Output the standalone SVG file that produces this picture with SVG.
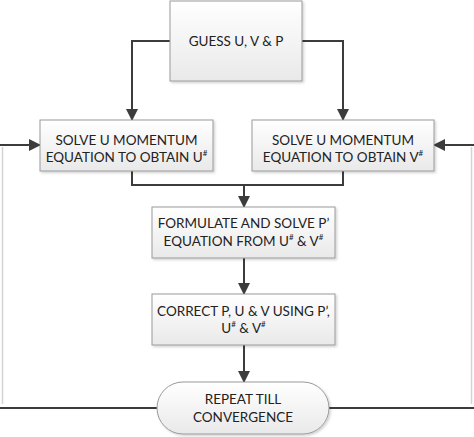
<svg xmlns="http://www.w3.org/2000/svg" width="474" height="437" viewBox="0 0 474 437">
<defs>
<linearGradient id="g" x1="0" y1="0" x2="0" y2="1">
<stop offset="0" stop-color="#ffffff"/>
<stop offset="1" stop-color="#e9e9e9"/>
</linearGradient>
<marker id="ah" markerWidth="12" markerHeight="12" refX="11" refY="6" orient="auto" markerUnits="userSpaceOnUse">
<path d="M0,0 L12,6 L0,12 Z" fill="#3c3c3c"/>
</marker>
<filter id="sh" x="-10%" y="-10%" width="120%" height="130%">
<feDropShadow dx="1.5" dy="1.5" stdDeviation="1" flood-color="#000" flood-opacity="0.18"/>
</filter>
</defs>
<style>
.box{fill:url(#g);stroke:#9a9a9a;stroke-width:1;filter:url(#sh)}
.t{font-family:Lato,"Liberation Sans",sans-serif;font-size:13.5px;fill:#222;text-anchor:middle}
.sup{font-size:8px}
.c{fill:none;stroke:#3c3c3c;stroke-width:2}
.f{fill:none;stroke:#d4d4d4;stroke-width:1.5}
</style>
<rect width="474" height="437" fill="#fff"/>
<g id="connectors">
<path class="c" d="M170,41 H132 V120" marker-end="url(#ah)"/>
<path class="c" d="M302,41 H343 V120" marker-end="url(#ah)"/>
<path class="c" d="M132,171 V185 H343 V171"/>
<path class="c" d="M244,185 V207" marker-end="url(#ah)"/>
<path class="c" d="M244,258 V294" marker-end="url(#ah)"/>
<path class="c" d="M244,345 V382" marker-end="url(#ah)"/>
<path class="c" d="M157,408 H0"/>
<path class="c" d="M329,408 H474"/>
<path class="f" d="M2.5,147 V404"/>
<path class="f" d="M471.5,147 V404"/>
<path class="c" d="M0,145 H40" marker-end="url(#ah)"/>
<path class="c" d="M474,145 H434" marker-end="url(#ah)"/>
</g>
<g id="guess">
<rect class="box" x="170" y="1" width="132" height="80"/>
<text class="t" x="236" y="46">GUESS U, V &amp; P</text>
</g>
<g id="solve-u">
<rect class="box" x="40" y="120" width="173" height="51"/>
<text class="t" x="126.5" y="145">SOLVE U MOMENTUM</text>
<text class="t" x="126.5" y="162">EQUATION TO OBTAIN U<tspan class="sup" dy="-6">#</tspan></text>
</g>
<g id="solve-v">
<rect class="box" x="252" y="120" width="182" height="51"/>
<text class="t" x="343" y="145">SOLVE U MOMENTUM</text>
<text class="t" x="343" y="162">EQUATION TO OBTAIN V<tspan class="sup" dy="-6">#</tspan></text>
</g>
<g id="formulate">
<rect class="box" x="152" y="207" width="183" height="51"/>
<text class="t" x="243.5" y="228">FORMULATE AND SOLVE P’</text>
<text class="t" x="243.5" y="246">EQUATION FROM U<tspan class="sup" dy="-6">#</tspan><tspan dy="6"> &amp; V</tspan><tspan class="sup" dy="-6">#</tspan></text>
</g>
<g id="correct">
<rect class="box" x="152" y="294" width="183" height="51"/>
<text class="t" x="243.5" y="316">CORRECT P, U &amp; V USING P’,</text>
<text class="t" x="243.5" y="333">U<tspan class="sup" dy="-6">#</tspan><tspan dy="6"> &amp; V</tspan><tspan class="sup" dy="-6">#</tspan></text>
</g>
<g id="repeat">
<rect class="box" x="157" y="382" width="172" height="52" rx="26" ry="26"/>
<text class="t" x="243" y="404">REPEAT TILL</text>
<text class="t" x="243" y="422">CONVERGENCE</text>
</g>
</svg>
